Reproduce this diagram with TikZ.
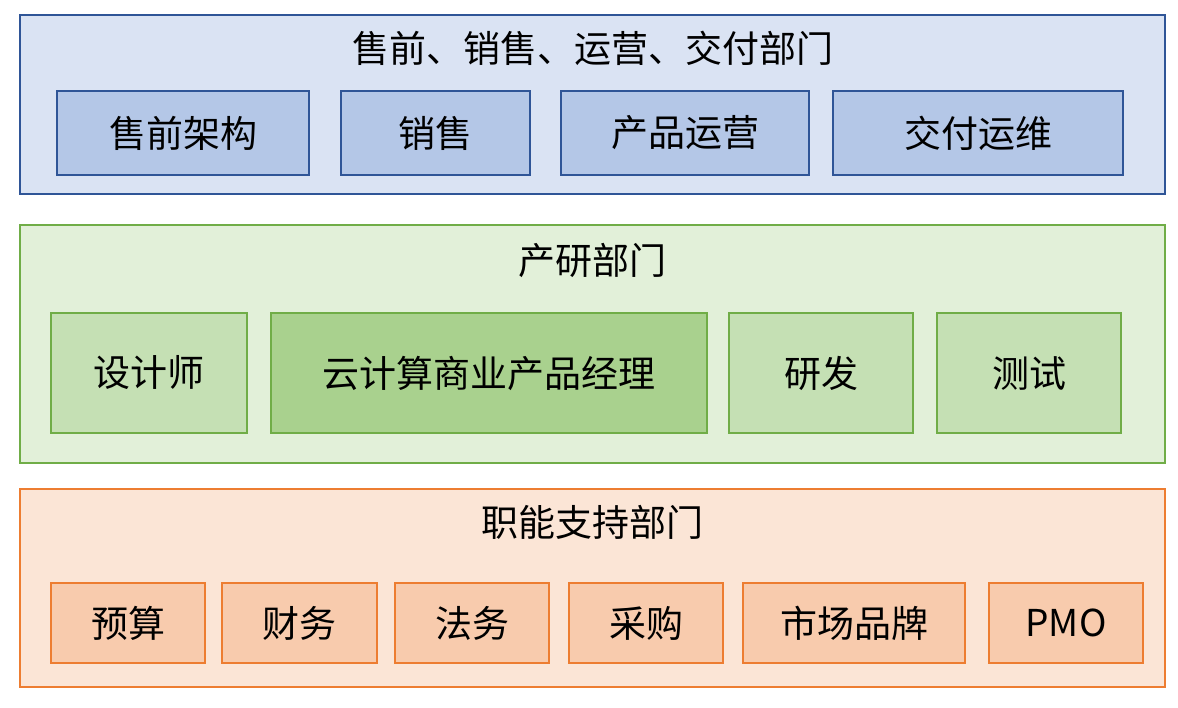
\documentclass[tikz,border=0pt]{standalone}
\usepackage{fontspec}
\setmainfont{Noto Sans CJK SC}
\definecolor{bf}{HTML}{DAE3F3}\definecolor{bi}{HTML}{B4C7E7}\definecolor{bd}{HTML}{2F5597}
\definecolor{gf}{HTML}{E2F0D9}\definecolor{gi}{HTML}{C5E0B4}\definecolor{gm}{HTML}{A9D18E}\definecolor{gd}{HTML}{70AD47}
\definecolor{of}{HTML}{FBE5D6}\definecolor{oi}{HTML}{F8CBAD}\definecolor{od}{HTML}{ED7D31}
\begin{document}
\begin{tikzpicture}[x=1pt,y=-1pt,
 box/.style={draw,line width=1.3pt,inner sep=0,outer sep=0,font=\fontsize{37}{37}\selectfont},
 ttl/.style={font=\fontsize{37}{37}\selectfont,inner sep=0}]
\useasboundingbox (0,0) rectangle (1178,708);
\newcommand{\bx}[7]{\node[box,fill=#5,draw=#6,minimum width={(#3-#2)*1pt},minimum height={(#1)*1pt}] (#7) at ({(#2+#3)/2},#4) {#7};}
% top
\node[box,fill=bf,draw=bd,minimum width=1145pt,minimum height=179pt] (o1) at (592.5,104.5) {};
\node[ttl] (t1) at (592.5,48) {售前、销售、运营、交付部门};
\bx{84}{57}{309}{133}{bi}{bd}{售前架构}
\bx{84}{341}{530}{133}{bi}{bd}{销售}
\bx{84}{561}{809}{133}{bi}{bd}{产品运营}
\bx{84}{833}{1123}{133}{bi}{bd}{交付运维}
% middle
\node[box,fill=gf,draw=gd,minimum width=1145pt,minimum height=238pt] (o2) at (592.5,344) {};
\node[ttl] (t2) at (592.5,260) {产研部门};
\bx{120}{51}{247}{373}{gi}{gd}{设计师}
\bx{120}{271}{707}{373}{gm}{gd}{云计算商业产品经理}
\bx{120}{729}{913}{373}{gi}{gd}{研发}
\bx{120}{937}{1121}{373}{gi}{gd}{测试}
% bottom
\node[box,fill=of,draw=od,minimum width=1145pt,minimum height=198pt] (o3) at (592.5,588) {};
\node[ttl] (t3) at (592.5,522) {职能支持部门};
\bx{80}{51}{205}{623}{oi}{od}{预算}
\bx{80}{222}{377}{623}{oi}{od}{财务}
\bx{80}{395}{549}{623}{oi}{od}{法务}
\bx{80}{569}{723}{623}{oi}{od}{采购}
\bx{80}{743}{965}{623}{oi}{od}{市场品牌}
\bx{80}{989}{1143}{623}{oi}{od}{PMO}
\end{tikzpicture}
\end{document}
